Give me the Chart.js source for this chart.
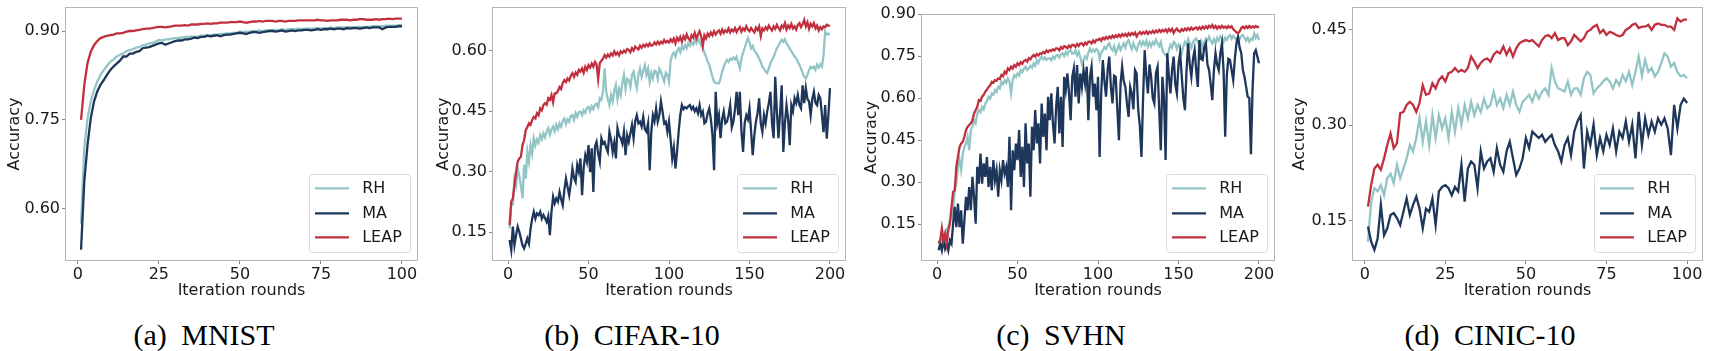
<!DOCTYPE html>
<html><head><meta charset="utf-8">
<script src="https://cdn.jsdelivr.net/npm/chart.js@4.4.1/dist/chart.umd.min.js"></script>
<style>
html,body{margin:0;padding:0;background:#fff;}
body{width:1711px;height:351px;position:relative;overflow:hidden;}
canvas{position:absolute;top:0;}
.cap{position:absolute;top:320px;font-family:"Liberation Serif","Times New Roman",serif;font-size:30px;color:#000;white-space:nowrap;transform:translateX(-50%);word-spacing:7px;line-height:1;}
</style></head><body>
<canvas id="cA"></canvas><canvas id="cB"></canvas><canvas id="cC"></canvas><canvas id="cD"></canvas>
<div id="caps"></div>
<script>
const roundsA = Array.from({length:100},(_,i)=>i+1);
const roundsB = Array.from({length:200},(_,i)=>i+1);
const seriesNames = ['RH','MA','LEAP'];
const xTicks100 = [0,25,50,75,100];
const xTicks200 = [0,50,100,150,200];
const yTicksMNIST = [0.60,0.75,0.90];
const yTicksCIFAR = [0.15,0.30,0.45,0.60];
const yTicksSVHN = [0.15,0.30,0.45,0.60,0.75,0.90];
const yTicksCINIC = [0.15,0.30,0.45];
const captions = ['(a) MNIST','(b) CIFAR-10','(c) SVHN','(d) CINIC-10'];

const mnistRH = [0.575,0.703,0.753,0.781,0.800,0.815,0.826,0.834,0.841,0.848,
0.852,0.857,0.860,0.862,0.866,0.868,0.869,0.872,0.873,0.876,
0.877,0.879,0.880,0.882,0.885,0.884,0.886,0.886,0.887,0.888,
0.888,0.889,0.890,0.890,0.891,0.890,0.891,0.892,0.892,0.893,
0.893,0.894,0.894,0.895,0.895,0.896,0.896,0.897,0.897,0.899,
0.898,0.899,0.899,0.900,0.900,0.901,0.900,0.901,0.901,0.902,
0.902,0.902,0.903,0.902,0.903,0.903,0.903,0.904,0.903,0.904,
0.904,0.904,0.904,0.905,0.904,0.905,0.905,0.906,0.905,0.906,
0.906,0.906,0.906,0.907,0.906,0.907,0.907,0.907,0.907,0.907,
0.908,0.908,0.908,0.908,0.909,0.909,0.909,0.909,0.910,0.910];
const mnistMA = [0.531,0.646,0.708,0.753,0.781,0.798,0.809,0.817,0.826,0.834,
0.840,0.845,0.850,0.857,0.857,0.862,0.862,0.865,0.866,0.871,
0.872,0.873,0.875,0.877,0.879,0.880,0.877,0.879,0.881,0.883,
0.884,0.884,0.886,0.886,0.887,0.889,0.888,0.890,0.890,0.892,
0.891,0.892,0.893,0.891,0.893,0.894,0.894,0.895,0.896,0.897,
0.896,0.895,0.897,0.898,0.898,0.897,0.898,0.899,0.900,0.900,
0.899,0.900,0.901,0.899,0.900,0.901,0.900,0.901,0.901,0.902,
0.902,0.901,0.902,0.903,0.902,0.903,0.903,0.904,0.903,0.904,
0.904,0.903,0.905,0.904,0.905,0.905,0.904,0.905,0.906,0.905,
0.906,0.906,0.906,0.903,0.906,0.907,0.907,0.907,0.908,0.908];
const mnistLEAP = [0.750,0.809,0.846,0.865,0.876,0.883,0.888,0.890,0.892,0.893,
0.894,0.896,0.896,0.897,0.899,0.900,0.900,0.901,0.902,0.903,
0.904,0.904,0.905,0.906,0.907,0.907,0.906,0.907,0.908,0.909,
0.909,0.909,0.910,0.909,0.911,0.911,0.911,0.912,0.912,0.913,
0.912,0.913,0.913,0.914,0.914,0.914,0.915,0.915,0.915,0.916,
0.915,0.914,0.915,0.916,0.916,0.917,0.916,0.917,0.917,0.917,
0.916,0.917,0.917,0.916,0.917,0.917,0.917,0.918,0.918,0.918,
0.918,0.918,0.918,0.919,0.918,0.918,0.917,0.918,0.918,0.918,
0.919,0.919,0.919,0.918,0.919,0.919,0.920,0.920,0.919,0.919,
0.919,0.920,0.919,0.920,0.920,0.921,0.920,0.921,0.921,0.921];

const cifarRH = [0.159,0.217,0.220,0.283,0.267,0.308,0.290,0.267,0.234,0.317,
0.283,0.350,0.325,0.366,0.345,0.383,0.365,0.380,0.372,0.391,
0.380,0.395,0.385,0.400,0.408,0.392,0.405,0.412,0.400,0.416,
0.405,0.420,0.412,0.426,0.432,0.418,0.430,0.424,0.438,0.440,
0.428,0.445,0.436,0.448,0.449,0.440,0.452,0.446,0.458,0.461,
0.450,0.462,0.455,0.466,0.469,0.460,0.482,0.478,0.500,0.556,
0.498,0.480,0.465,0.490,0.474,0.500,0.515,0.480,0.505,0.490,
0.520,0.540,0.505,0.530,0.527,0.510,0.540,0.548,0.525,0.507,
0.540,0.556,0.535,0.550,0.564,0.540,0.555,0.523,0.545,0.531,
0.550,0.548,0.530,0.555,0.548,0.535,0.523,0.545,0.540,0.523,
0.575,0.589,0.595,0.585,0.600,0.606,0.596,0.610,0.604,0.614,
0.606,0.618,0.612,0.622,0.615,0.625,0.618,0.631,0.620,0.612,
0.606,0.595,0.585,0.573,0.565,0.550,0.535,0.523,0.520,0.519,
0.519,0.530,0.548,0.560,0.570,0.577,0.572,0.580,0.577,0.583,
0.578,0.585,0.570,0.556,0.580,0.595,0.606,0.620,0.631,0.620,
0.606,0.612,0.600,0.595,0.589,0.580,0.572,0.560,0.555,0.548,
0.544,0.556,0.568,0.577,0.585,0.595,0.606,0.612,0.620,0.627,
0.622,0.628,0.618,0.612,0.605,0.598,0.592,0.585,0.581,0.572,
0.565,0.556,0.545,0.535,0.531,0.540,0.552,0.560,0.556,0.560,
0.552,0.565,0.558,0.566,0.560,0.589,0.647,0.640,0.642,0.639];
const cifarMA = [0.131,0.106,0.164,0.118,0.143,0.164,0.151,0.135,0.118,0.110,
0.122,0.135,0.122,0.159,0.184,0.201,0.184,0.197,0.193,0.201,
0.184,0.193,0.185,0.176,0.190,0.143,0.201,0.238,0.222,0.234,
0.226,0.250,0.232,0.217,0.255,0.283,0.262,0.242,0.270,0.308,
0.285,0.275,0.317,0.300,0.333,0.242,0.310,0.341,0.325,0.366,
0.299,0.358,0.250,0.362,0.374,0.345,0.325,0.383,0.370,0.374,
0.360,0.349,0.399,0.380,0.349,0.372,0.333,0.408,0.390,0.383,
0.370,0.399,0.341,0.390,0.374,0.395,0.416,0.383,0.425,0.440,
0.420,0.424,0.412,0.436,0.405,0.399,0.420,0.304,0.399,0.440,
0.425,0.457,0.424,0.440,0.474,0.449,0.420,0.424,0.399,0.424,
0.380,0.333,0.360,0.308,0.350,0.400,0.440,0.465,0.455,0.460,
0.457,0.462,0.465,0.455,0.461,0.450,0.457,0.445,0.465,0.440,
0.449,0.420,0.424,0.445,0.457,0.430,0.391,0.304,0.498,0.420,
0.440,0.383,0.430,0.449,0.420,0.424,0.440,0.465,0.410,0.424,
0.455,0.498,0.440,0.498,0.400,0.349,0.420,0.440,0.430,0.457,
0.400,0.341,0.390,0.424,0.445,0.482,0.420,0.399,0.440,0.420,
0.449,0.470,0.498,0.420,0.383,0.535,0.450,0.383,0.445,0.514,
0.349,0.420,0.465,0.430,0.366,0.465,0.450,0.482,0.470,0.490,
0.465,0.457,0.514,0.470,0.507,0.480,0.474,0.440,0.480,0.498,
0.470,0.465,0.490,0.482,0.440,0.398,0.465,0.382,0.440,0.507];
const cifarLEAP = [0.168,0.226,0.234,0.267,0.299,0.325,0.333,0.337,0.366,0.378,
0.403,0.411,0.420,0.416,0.428,0.436,0.432,0.445,0.440,0.457,
0.452,0.465,0.470,0.466,0.482,0.478,0.490,0.472,0.494,0.494,
0.500,0.510,0.505,0.520,0.527,0.522,0.531,0.526,0.538,0.544,
0.535,0.546,0.540,0.552,0.548,0.556,0.545,0.560,0.552,0.564,
0.558,0.568,0.560,0.572,0.566,0.530,0.569,0.575,0.580,0.589,
0.583,0.590,0.585,0.593,0.588,0.598,0.590,0.595,0.588,0.598,
0.594,0.600,0.596,0.604,0.602,0.596,0.606,0.600,0.610,0.606,
0.603,0.612,0.607,0.614,0.610,0.616,0.611,0.618,0.612,0.614,
0.620,0.615,0.622,0.616,0.622,0.618,0.626,0.620,0.624,0.620,
0.628,0.622,0.630,0.618,0.632,0.625,0.634,0.622,0.636,0.628,
0.640,0.630,0.625,0.638,0.632,0.644,0.630,0.640,0.648,0.635,
0.612,0.638,0.630,0.642,0.636,0.645,0.638,0.648,0.640,0.646,
0.650,0.642,0.652,0.644,0.650,0.646,0.655,0.645,0.652,0.648,
0.656,0.646,0.653,0.658,0.647,0.655,0.650,0.660,0.652,0.648,
0.656,0.650,0.645,0.657,0.651,0.660,0.636,0.655,0.650,0.658,
0.652,0.662,0.655,0.650,0.660,0.654,0.664,0.656,0.650,0.662,
0.657,0.668,0.652,0.662,0.656,0.666,0.655,0.660,0.652,0.664,
0.668,0.658,0.665,0.676,0.660,0.670,0.654,0.666,0.660,0.668,
0.655,0.662,0.650,0.658,0.653,0.660,0.658,0.664,0.662,0.661];

const svhnRH = [0.093,0.081,0.105,0.093,0.105,0.129,0.140,0.164,0.176,0.200,
0.271,0.295,0.355,0.379,0.343,0.402,0.426,0.438,0.462,0.414,
0.486,0.498,0.521,0.510,0.545,0.557,0.550,0.569,0.560,0.581,
0.590,0.605,0.598,0.617,0.612,0.629,0.622,0.640,0.635,0.658,
0.650,0.664,0.655,0.670,0.658,0.617,0.664,0.682,0.675,0.688,
0.680,0.700,0.692,0.705,0.712,0.700,0.706,0.715,0.708,0.724,
0.716,0.736,0.725,0.740,0.748,0.738,0.745,0.736,0.742,0.742,
0.735,0.748,0.740,0.752,0.754,0.745,0.756,0.760,0.750,0.765,
0.755,0.768,0.771,0.758,0.760,0.770,0.752,0.765,0.745,0.722,
0.735,0.748,0.740,0.762,0.777,0.765,0.772,0.765,0.775,0.771,
0.740,0.762,0.771,0.782,0.775,0.788,0.795,0.778,0.770,0.785,
0.760,0.775,0.790,0.772,0.783,0.795,0.780,0.800,0.807,0.790,
0.775,0.795,0.780,0.771,0.790,0.802,0.788,0.801,0.790,0.805,
0.783,0.798,0.785,0.800,0.792,0.807,0.795,0.785,0.800,0.771,
0.760,0.752,0.748,0.770,0.790,0.780,0.800,0.795,0.775,0.790,
0.778,0.760,0.785,0.800,0.790,0.810,0.795,0.780,0.800,0.808,
0.813,0.800,0.790,0.805,0.783,0.800,0.812,0.805,0.819,0.805,
0.795,0.810,0.795,0.815,0.805,0.820,0.813,0.800,0.815,0.808,
0.820,0.825,0.812,0.822,0.815,0.807,0.818,0.810,0.822,0.825,
0.815,0.805,0.815,0.801,0.812,0.808,0.831,0.815,0.825,0.807];
const svhnMA = [0.057,0.081,0.057,0.093,0.063,0.081,0.057,0.093,0.081,0.152,
0.212,0.140,0.224,0.140,0.200,0.081,0.164,0.248,0.200,0.283,
0.200,0.319,0.248,0.152,0.355,0.295,0.402,0.295,0.367,0.319,
0.390,0.283,0.355,0.271,0.379,0.307,0.343,0.248,0.343,0.307,
0.379,0.331,0.355,0.283,0.462,0.200,0.414,0.343,0.438,0.379,
0.486,0.319,0.426,0.283,0.510,0.367,0.438,0.248,0.498,0.414,
0.557,0.438,0.510,0.367,0.581,0.462,0.545,0.414,0.605,0.521,
0.617,0.510,0.438,0.569,0.640,0.474,0.605,0.426,0.676,0.629,
0.688,0.617,0.521,0.676,0.706,0.605,0.718,0.581,0.688,0.640,
0.700,0.652,0.712,0.521,0.676,0.712,0.605,0.652,0.557,0.676,
0.390,0.620,0.736,0.660,0.605,0.700,0.748,0.640,0.581,0.680,
0.676,0.560,0.450,0.650,0.712,0.660,0.640,0.580,0.533,0.640,
0.617,0.560,0.700,0.688,0.557,0.500,0.390,0.600,0.771,0.680,
0.617,0.720,0.676,0.600,0.581,0.690,0.712,0.560,0.414,0.676,
0.600,0.379,0.760,0.680,0.617,0.700,0.748,0.650,0.617,0.720,
0.760,0.680,0.600,0.557,0.700,0.795,0.720,0.676,0.740,0.771,
0.700,0.640,0.807,0.740,0.736,0.780,0.795,0.720,0.700,0.650,
0.593,0.700,0.760,0.720,0.700,0.760,0.795,0.700,0.462,0.680,
0.740,0.736,0.700,0.664,0.740,0.795,0.819,0.780,0.760,0.700,
0.676,0.640,0.605,0.600,0.400,0.630,0.760,0.771,0.748,0.724];
const svhnLEAP = [0.081,0.093,0.135,0.093,0.117,0.081,0.129,0.152,0.212,0.265,
0.271,0.355,0.390,0.426,0.438,0.444,0.462,0.486,0.498,0.504,
0.510,0.521,0.545,0.557,0.569,0.593,0.590,0.605,0.612,0.623,
0.630,0.640,0.645,0.658,0.655,0.664,0.662,0.670,0.668,0.682,
0.678,0.694,0.688,0.706,0.700,0.712,0.705,0.718,0.712,0.724,
0.718,0.728,0.722,0.733,0.736,0.730,0.742,0.738,0.748,0.754,
0.748,0.757,0.752,0.760,0.758,0.765,0.760,0.770,0.764,0.771,
0.768,0.774,0.770,0.778,0.777,0.770,0.782,0.776,0.785,0.783,
0.778,0.787,0.781,0.790,0.789,0.783,0.793,0.786,0.795,0.795,
0.788,0.798,0.792,0.801,0.801,0.795,0.805,0.798,0.808,0.807,
0.812,0.805,0.815,0.810,0.818,0.812,0.820,0.814,0.823,0.816,
0.824,0.818,0.826,0.819,0.828,0.822,0.829,0.821,0.831,0.824,
0.832,0.826,0.834,0.820,0.830,0.836,0.828,0.835,0.830,0.838,
0.829,0.837,0.832,0.840,0.833,0.841,0.835,0.843,0.836,0.843,
0.838,0.845,0.836,0.846,0.839,0.847,0.832,0.842,0.848,0.840,
0.837,0.846,0.840,0.848,0.842,0.850,0.843,0.851,0.844,0.849,
0.852,0.845,0.853,0.846,0.855,0.848,0.856,0.849,0.858,0.852,
0.861,0.850,0.857,0.848,0.856,0.850,0.858,0.851,0.855,0.849,
0.857,0.851,0.856,0.846,0.840,0.835,0.831,0.838,0.850,0.855,
0.849,0.856,0.850,0.857,0.851,0.856,0.852,0.857,0.853,0.855];

const cinicRH = [0.117,0.180,0.201,0.196,0.206,0.190,0.217,0.224,0.209,0.238,
0.217,0.232,0.248,0.269,0.259,0.280,0.311,0.274,0.306,0.269,
0.316,0.280,0.316,0.295,0.311,0.280,0.321,0.290,0.327,0.301,
0.332,0.311,0.337,0.316,0.332,0.321,0.342,0.327,0.332,0.353,
0.332,0.342,0.327,0.348,0.332,0.353,0.332,0.321,0.337,0.342,
0.348,0.337,0.353,0.342,0.353,0.358,0.348,0.390,0.369,0.358,
0.356,0.353,0.369,0.348,0.358,0.358,0.348,0.374,0.384,0.379,
0.350,0.358,0.363,0.369,0.374,0.369,0.358,0.371,0.363,0.379,
0.369,0.384,0.363,0.384,0.408,0.377,0.403,0.384,0.390,0.377,
0.384,0.398,0.413,0.408,0.392,0.398,0.384,0.377,0.379,0.374];
const cinicMA = [0.141,0.117,0.104,0.122,0.175,0.127,0.138,0.159,0.162,0.154,
0.143,0.164,0.185,0.159,0.175,0.188,0.169,0.138,0.169,0.164,
0.185,0.143,0.196,0.203,0.206,0.201,0.190,0.203,0.196,0.238,
0.180,0.232,0.243,0.238,0.201,0.259,0.232,0.243,0.248,0.227,
0.264,0.238,0.227,0.259,0.274,0.248,0.222,0.232,0.248,0.280,
0.264,0.290,0.285,0.280,0.285,0.274,0.280,0.285,0.269,0.259,
0.243,0.269,0.280,0.253,0.290,0.306,0.316,0.232,0.290,0.269,
0.301,0.253,0.280,0.259,0.285,0.269,0.295,0.259,0.290,0.280,
0.306,0.274,0.301,0.248,0.321,0.269,0.311,0.285,0.306,0.290,
0.311,0.301,0.311,0.295,0.253,0.332,0.295,0.332,0.342,0.335];
const cinicLEAP = [0.172,0.206,0.232,0.238,0.230,0.248,0.269,0.287,0.264,0.272,
0.319,0.321,0.332,0.337,0.332,0.321,0.335,0.363,0.348,0.350,
0.366,0.358,0.371,0.377,0.369,0.382,0.384,0.390,0.384,0.387,
0.384,0.390,0.408,0.400,0.390,0.398,0.403,0.405,0.400,0.411,
0.416,0.413,0.424,0.411,0.421,0.408,0.421,0.429,0.432,0.434,
0.432,0.434,0.429,0.424,0.434,0.440,0.442,0.437,0.445,0.434,
0.437,0.437,0.426,0.432,0.442,0.437,0.432,0.437,0.447,0.450,
0.455,0.458,0.445,0.450,0.442,0.447,0.445,0.442,0.440,0.442,
0.450,0.453,0.458,0.460,0.453,0.455,0.455,0.458,0.450,0.458,
0.460,0.458,0.458,0.455,0.455,0.450,0.468,0.463,0.466,0.466];

const seriesColors = ['#93c5c6','#1d365a','#c1303e'];
const FONT = 'DejaVu Sans';
const TXT = '#1a1a1a';

const panels = [
  {id:'cA', rounds:roundsA, data:[mnistRH,mnistMA,mnistLEAP], xTicks:xTicks100, yTicks:yTicksMNIST, xMin:-3.95, xMax:104.95, yMin:0.512, yMax:0.9405, left:65, right:418, top:7, bottom:261, L:64, cap:204},
  {id:'cB', rounds:roundsB, data:[cifarRH,cifarMA,cifarLEAP], xTicks:xTicks200, yTicks:yTicksCIFAR, xMin:-9.95, xMax:209.95, yMin:0.079, yMax:0.708, left:492, right:846, top:7, bottom:261, L:62, cap:632},
  {id:'cC', rounds:roundsB, data:[svhnRH,svhnMA,svhnLEAP], xTicks:xTicks200, yTicks:yTicksSVHN, xMin:-9.95, xMax:209.95, yMin:0.019, yMax:0.90, left:921, right:1275, top:14, bottom:261, L:63, cap:1061},
  {id:'cD', rounds:roundsA, data:[cinicRH,cinicMA,cinicLEAP], xTicks:xTicks100, yTicks:yTicksCINIC, xMin:-3.95, xMax:104.95, yMin:0.0866, yMax:0.486, left:1352, right:1703, top:7, bottom:261, L:66, cap:1490}
];

const framePlugin = {
  id:'frameLegend',
  afterDraw(chart){
    const {ctx, chartArea:a} = chart;
    ctx.save();
    ctx.strokeStyle = '#b5b5b5';
    ctx.lineWidth = 1;
    const l = Math.round(a.left)+0.5, t = Math.round(a.top)+0.5;
    const r = Math.round(a.right)-0.5, b = Math.round(a.bottom)-0.5;
    ctx.strokeRect(l, t, r-l, b-t);
    const w = 101, h = 78;
    const x0 = a.right - 8.5 - w, y0 = a.bottom - 9 - h;
    ctx.beginPath();
    ctx.roundRect(Math.round(x0)+0.5, Math.round(y0)+0.5, w, h, 3);
    ctx.fillStyle = 'rgba(255,255,255,0.85)';
    ctx.fill();
    ctx.strokeStyle = '#dcdcdc';
    ctx.stroke();
    ctx.font = '16px "' + FONT + '"';
    ctx.textBaseline = 'middle';
    ctx.textAlign = 'left';
    const rows = [14.3, 39.3, 63.3];
    chart.data.datasets.forEach((ds, k) => {
      const yy = y0 + rows[k];
      ctx.beginPath();
      ctx.strokeStyle = ds.borderColor;
      ctx.lineWidth = 2.3;
      ctx.moveTo(x0 + 6.5, yy);
      ctx.lineTo(x0 + 40.5, yy);
      ctx.stroke();
      ctx.fillStyle = TXT;
      ctx.fillText(ds.label, x0 + 53.7, yy + 1);
    });
    ctx.restore();
  }
};

const R = 6, H = 300;
panels.forEach(p => {
  const cv = document.getElementById(p.id);
  const boxW = p.right - p.left;
  const W = p.L + boxW + R;
  cv.width = W; cv.height = H;
  cv.style.width = W + 'px'; cv.style.height = H + 'px';
  cv.style.left = (p.left - p.L) + 'px';
  const font = {family: FONT, size: 16};
  new Chart(cv, {
    type: 'line',
    data: {
      datasets: seriesNames.map((name, k) => ({
        label: name,
        data: p.rounds.map((r, i) => ({x: r, y: p.data[k][i]})),
        borderColor: seriesColors[k],
        backgroundColor: seriesColors[k],
        borderWidth: 2.3,
        pointRadius: 0,
        tension: 0,
        fill: false,
        order: 2 - k
      }))
    },
    options: {
      responsive: false,
      animation: false,
      devicePixelRatio: 1,
      layout: {padding: {left: 0, top: p.top, right: R, bottom: 0}},
      plugins: {legend: {display: false}, tooltip: {enabled: false}},
      scales: {
        x: {
          type: 'linear', min: p.xMin, max: p.xMax,
          afterBuildTicks: s => { s.ticks = p.xTicks.map(v => ({value: v})); },
          ticks: {font, color: TXT, padding: 1, autoSkip: false, maxRotation: 0, callback: v => String(v)},
          grid: {drawOnChartArea: false, drawTicks: true, tickLength: 3, color: '#8a8a8a'},
          border: {display: false},
          title: {display: true, text: 'Iteration rounds', font, color: TXT, padding: {top: 0, bottom: 0}},
          afterFit: s => { s.height = H - p.bottom; s.paddingLeft = 0; s.paddingRight = 0; }
        },
        y: {
          type: 'linear', min: p.yMin, max: p.yMax,
          afterBuildTicks: s => { s.ticks = p.yTicks.map(v => ({value: v})); },
          ticks: {font, color: TXT, padding: 2, autoSkip: false, callback: v => Number(v).toFixed(2)},
          grid: {drawOnChartArea: false, drawTicks: true, tickLength: 3, color: '#8a8a8a'},
          border: {display: false},
          title: {display: true, text: 'Accuracy', font, color: TXT, padding: {top: 4, bottom: 0}},
          afterFit: s => { s.width = p.L; s.paddingTop = 0; s.paddingBottom = 0; }
        }
      }
    },
    plugins: [framePlugin]
  });
});

const capBox = document.getElementById('caps');
captions.forEach((c, i) => {
  const d = document.createElement('div');
  d.className = 'cap';
  d.style.left = panels[i].cap + 'px';
  d.textContent = c;
  capBox.appendChild(d);
});
</script>
</body></html>
